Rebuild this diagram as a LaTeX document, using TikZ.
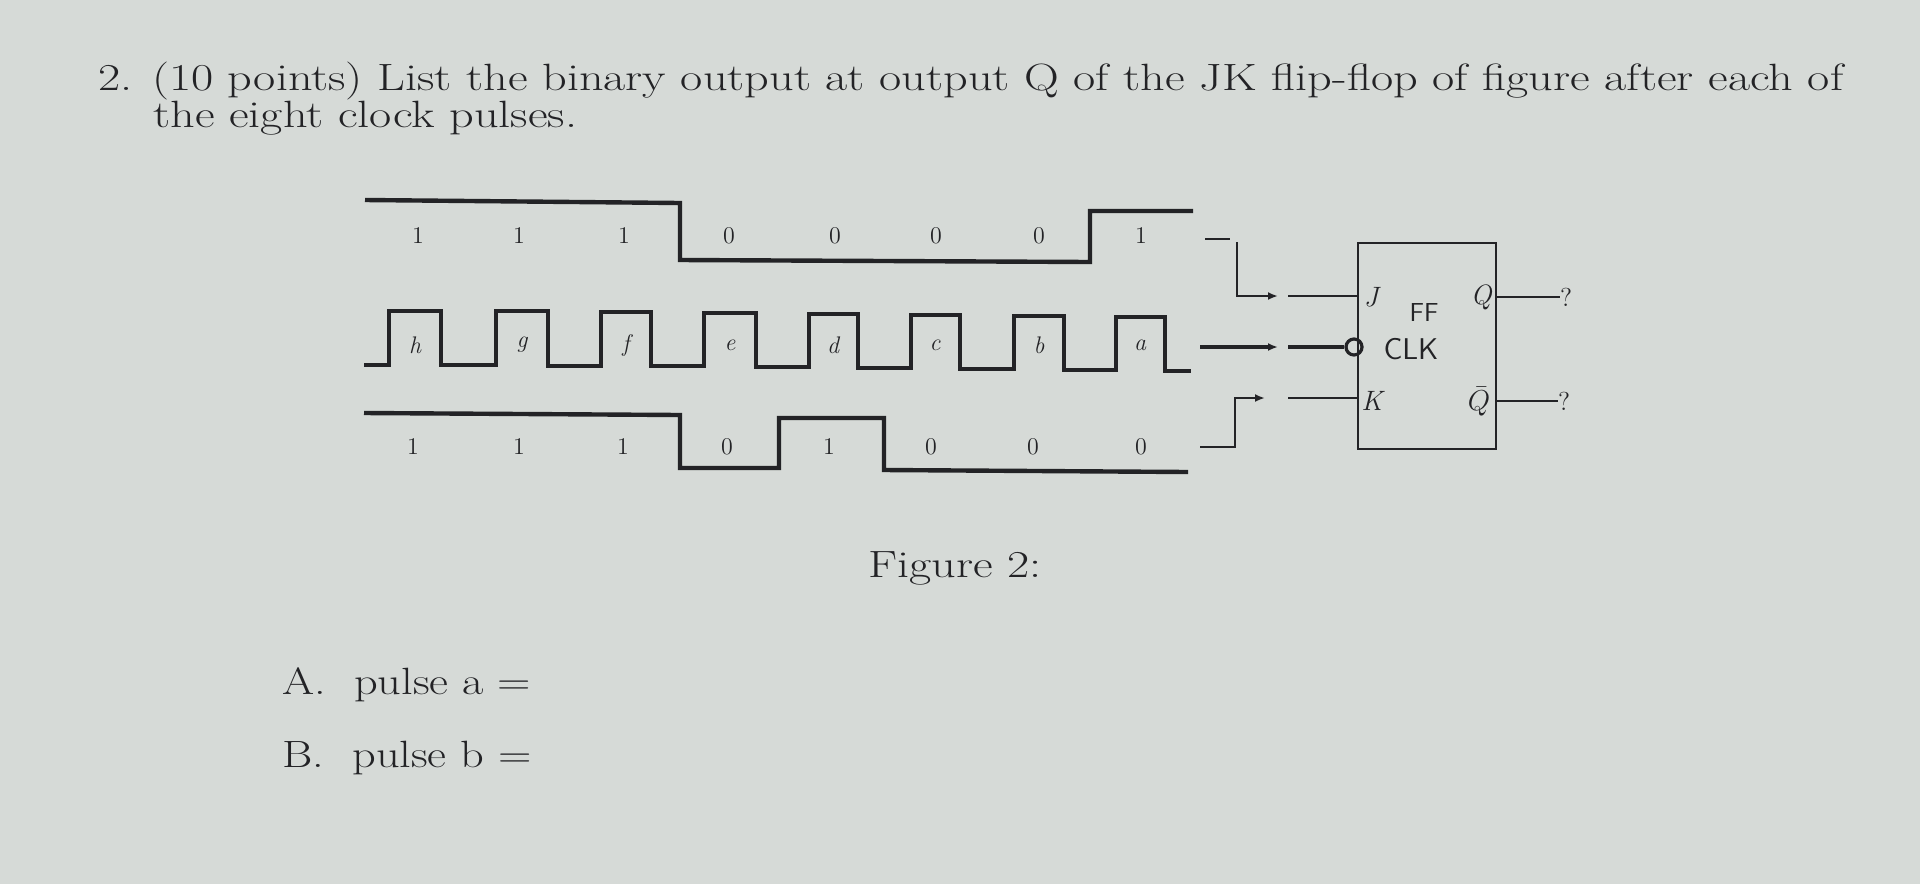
\documentclass[tikz,border=0pt]{standalone}
\usepackage{fontspec}
\usetikzlibrary{arrows.meta}
\definecolor{bg}{RGB}{214,218,215}
\definecolor{ink}{RGB}{35,35,38}
\newcommand{\wide}[1]{\scalebox{1.27}[1]{#1}}
\begin{document}
\begin{tikzpicture}[x=0.5pt,y=-0.5pt,
  wave/.style={ink,line width=2.2pt},
  thin/.style={ink,line width=1.1pt},
  lbl/.style={ink,font=\fontsize{12}{12}\selectfont},
  clbl/.style={ink,font=\fontsize{12}{12}\selectfont\itshape},
  txt/.style={ink,font=\fontsize{19}{22}\selectfont,anchor=base west,inner sep=0pt},
  pin/.style={ink,inner sep=0pt,font=\fontsize{14}{14}\selectfont\itshape},
  spin/.style={ink,inner sep=0pt,font=\fontsize{15}{15}\selectfont\sffamily},
  arr/.style={thin,-{Latex[length=5pt,width=4pt]}}]
\fill[bg] (0,0) rectangle (1920,884);
\useasboundingbox (0,0) rectangle (1920,884);
% texts
\node[txt] (t1) at (98,90) {\wide{2. (10 points) List the binary output at output Q of the JK flip-flop of figure after each of}};
\node[txt] (t2) at (153,127) {\wide{the eight clock pulses.}};
\node[txt] (fig) at (868,577) {\wide{Figure 2:}};
\node[txt] (qa) at (282,694) {\scalebox{1.22}[1]{A.\ \ pulse a =}};
\node[txt] (qb) at (282,767) {\scalebox{1.22}[1]{B.\ \ pulse b =}};
% J waveform
\draw[wave] (365,200) -- (680,203) -- (680,260) -- (1090,262) -- (1090,211) -- (1193,211);
\foreach \x/\v in {418/1,519/1,624/1,729/0,835/0,936/0,1039/0,1141/1}
  \node[lbl] at (\x,236) {\v};
% clock
\draw[wave] (364,365) -- (389,365) -- (389,311) -- (441,311) -- (441,365)
  -- (496,365) -- (496,311) -- (548,311) -- (548,366)
  -- (601,366) -- (601,312) -- (651,312) -- (651,366)
  -- (704,366) -- (704,313) -- (756,313) -- (756,367)
  -- (809,367) -- (809,314) -- (858,314) -- (858,368)
  -- (911,368) -- (911,315) -- (960,315) -- (960,369)
  -- (1014,369) -- (1014,316) -- (1064,316) -- (1064,370)
  -- (1116,370) -- (1116,317) -- (1165,317) -- (1165,371) -- (1191,371);
\foreach \x/\v in {415/h,522/g,626/f,730/e,833/d,935/c,1039/b,1140/a}
  \node[clbl] at (\x,345) {\v};
% K waveform
\draw[wave] (364,413) -- (680,415) -- (680,468) -- (779,468) -- (779,418) -- (884,418) -- (884,470) -- (1188,472);
\foreach \x/\v in {413/1,519/1,623/1,727/0,829/1,931/0,1033/0,1141/0}
  \node[lbl] at (\x,447) {\v};
% flip-flop
\node[draw=ink,line width=1.4pt,minimum width=138*0.5pt,minimum height=206*0.5pt,inner sep=0pt] (ff) at (1427,346) {};
\node[pin] (jl) at (1371,297) {J};
\node[spin,font=\fontsize{13}{13}\selectfont\sffamily] (ffl) at (1424,312) {FF};
\node[spin] (clkl) at (1411,349) {CLK};
\node[pin] (kl) at (1372,401) {K};
\node[pin] (ql) at (1481,297) {Q};
\node[pin] (qbl) at (1479,402) {$\bar{Q}$};
\node[draw=ink,circle,line width=1.6pt,minimum size=8pt,inner sep=0pt] (bub) at (1354,347) {};
% J input
\coordinate (j0) at (1205,239); \coordinate (j1) at (1230,239);
\coordinate (j2) at (1237,242); \coordinate (j3) at (1237,296);
\coordinate (j4) at (1278,296); \coordinate (j5) at (1288,296);
\coordinate (jin) at (ff.west |- j5);
\draw[thin] (j0) -- (j1);
\draw[arr] (j2) -- (j3) -- (j4);
\draw[thin] (j5) -- (jin);
% CLK input
\coordinate (c0) at (1200,347); \coordinate (c1) at (1278,347); \coordinate (c2) at (1288,347);
\draw[arr,line width=1.6pt] (c0) -- (c1);
\draw[thin,line width=1.6pt] (c2) -- (bub.west);
% K input
\coordinate (k0) at (1200,447); \coordinate (k1) at (1235,447);
\coordinate (k2) at (1235,398); \coordinate (k3) at (1265,398);
\coordinate (k4) at (1288,398); \coordinate (kin) at (ff.west |- k4);
\draw[arr] (k0) -- (k1) -- (k2) -- (k3);
\draw[thin] (k4) -- (kin);
% outputs
\node[pin,font=\fontsize{13}{13}\selectfont] (q1) at (1566,297) {?};
\node[pin,font=\fontsize{13}{13}\selectfont] (q2) at (1564,401) {?};
\draw[thin] (ff.east |- q1) -- (q1.west);
\draw[thin] (ff.east |- q2) -- (q2.west);
\end{tikzpicture}
\end{document}
